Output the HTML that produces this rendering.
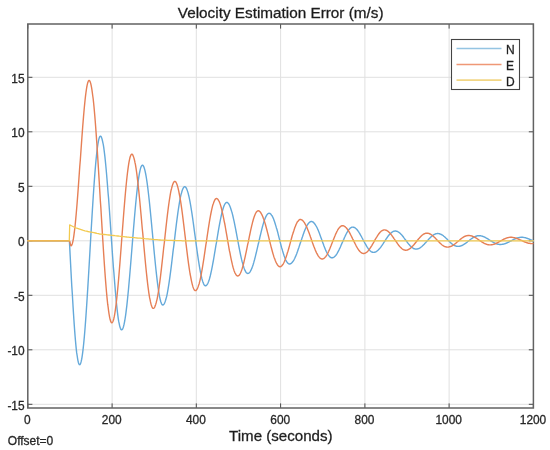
<!DOCTYPE html>
<html><head><meta charset="utf-8"><title>Velocity Estimation Error</title>
<style>
html,body{margin:0;padding:0;background:#fff;}
body{width:550px;height:450px;overflow:hidden;}
svg{display:block;font-family:"Liberation Sans",Arial,sans-serif;}
.g line{stroke:#e0e0e0;stroke-width:1;}
.t line{stroke:#4a4a4a;stroke-width:1;}
.lab text{font-size:11.9px;fill:#262626;}
text{stroke:#2a2a2a;stroke-width:0.3px;}
.c{fill:none;stroke-width:1.4;stroke-linejoin:round;stroke-linecap:round;}
</style></head><body>
<svg width="550" height="450" viewBox="0 0 550 450">
<rect x="0" y="0" width="550" height="450" fill="#ffffff"/>
<g class="g"><line x1="112.1" y1="24.0" x2="112.1" y2="408.0"/><line x1="196.3" y1="24.0" x2="196.3" y2="408.0"/><line x1="280.6" y1="24.0" x2="280.6" y2="408.0"/><line x1="364.9" y1="24.0" x2="364.9" y2="408.0"/><line x1="449.1" y1="24.0" x2="449.1" y2="408.0"/><line x1="27.8" y1="404.3" x2="533.4" y2="404.3"/><line x1="27.8" y1="349.8" x2="533.4" y2="349.8"/><line x1="27.8" y1="295.3" x2="533.4" y2="295.3"/><line x1="27.8" y1="240.8" x2="533.4" y2="240.8"/><line x1="27.8" y1="186.3" x2="533.4" y2="186.3"/><line x1="27.8" y1="131.8" x2="533.4" y2="131.8"/><line x1="27.8" y1="77.3" x2="533.4" y2="77.3"/></g>
<g class="t"><line x1="27.8" y1="408.0" x2="27.8" y2="403.4"/><line x1="27.8" y1="24.0" x2="27.8" y2="28.6"/><line x1="112.1" y1="408.0" x2="112.1" y2="403.4"/><line x1="112.1" y1="24.0" x2="112.1" y2="28.6"/><line x1="196.3" y1="408.0" x2="196.3" y2="403.4"/><line x1="196.3" y1="24.0" x2="196.3" y2="28.6"/><line x1="280.6" y1="408.0" x2="280.6" y2="403.4"/><line x1="280.6" y1="24.0" x2="280.6" y2="28.6"/><line x1="364.9" y1="408.0" x2="364.9" y2="403.4"/><line x1="364.9" y1="24.0" x2="364.9" y2="28.6"/><line x1="449.1" y1="408.0" x2="449.1" y2="403.4"/><line x1="449.1" y1="24.0" x2="449.1" y2="28.6"/><line x1="533.4" y1="408.0" x2="533.4" y2="403.4"/><line x1="533.4" y1="24.0" x2="533.4" y2="28.6"/><line x1="27.8" y1="404.3" x2="32.4" y2="404.3"/><line x1="533.4" y1="404.3" x2="528.8" y2="404.3"/><line x1="27.8" y1="349.8" x2="32.4" y2="349.8"/><line x1="533.4" y1="349.8" x2="528.8" y2="349.8"/><line x1="27.8" y1="295.3" x2="32.4" y2="295.3"/><line x1="533.4" y1="295.3" x2="528.8" y2="295.3"/><line x1="27.8" y1="240.8" x2="32.4" y2="240.8"/><line x1="533.4" y1="240.8" x2="528.8" y2="240.8"/><line x1="27.8" y1="186.3" x2="32.4" y2="186.3"/><line x1="533.4" y1="186.3" x2="528.8" y2="186.3"/><line x1="27.8" y1="131.8" x2="32.4" y2="131.8"/><line x1="533.4" y1="131.8" x2="528.8" y2="131.8"/><line x1="27.8" y1="77.3" x2="32.4" y2="77.3"/><line x1="533.4" y1="77.3" x2="528.8" y2="77.3"/></g>
<rect x="27.8" y="24.0" width="505.59999999999997" height="384.0" fill="none" stroke="#626262" stroke-width="1.5"/>
<clipPath id="cp"><rect x="27.1" y="24.0" width="506.99999999999994" height="384.0"/></clipPath>
<g clip-path="url(#cp)">
<path class="c" stroke="#64a9da" d="M27.8,240.8 L69.4,240.8 L69.8,248.6 L70.2,256.3 L70.6,264.0 L71.0,271.6 L71.4,279.1 L71.8,286.4 L72.3,293.6 L72.7,300.5 L73.1,307.2 L73.5,313.6 L73.9,319.8 L74.3,325.6 L74.7,331.1 L75.1,336.3 L75.5,341.0 L75.9,345.4 L76.3,349.4 L76.7,352.9 L77.2,356.0 L77.6,358.6 L78.0,360.8 L78.4,362.5 L78.8,363.7 L79.2,364.5 L79.6,364.7 L80.0,364.5 L80.4,363.9 L80.8,362.8 L81.2,361.4 L81.6,359.5 L82.0,357.3 L82.4,354.6 L82.8,351.6 L83.2,348.2 L83.6,344.5 L84.0,340.4 L84.4,336.0 L84.8,331.2 L85.2,326.2 L85.6,320.9 L86.0,315.3 L86.4,309.5 L86.8,303.5 L87.2,297.3 L87.6,290.9 L88.0,284.4 L88.4,277.8 L88.8,271.0 L89.2,264.2 L89.6,257.3 L90.0,250.4 L90.4,243.5 L90.8,236.6 L91.2,229.8 L91.6,223.0 L92.0,216.4 L92.4,209.9 L92.8,203.5 L93.2,197.3 L93.6,191.3 L94.0,185.5 L94.4,179.9 L94.8,174.6 L95.2,169.6 L95.6,164.8 L96.0,160.4 L96.4,156.3 L96.8,152.6 L97.2,149.2 L97.6,146.2 L98.0,143.5 L98.4,141.3 L98.8,139.4 L99.2,138.0 L99.6,136.9 L100.0,136.3 L100.4,136.1 L100.8,136.3 L101.2,136.8 L101.6,137.7 L102.0,138.9 L102.4,140.5 L102.8,142.4 L103.3,144.6 L103.7,147.2 L104.1,150.1 L104.5,153.3 L104.9,156.7 L105.3,160.5 L105.7,164.5 L106.1,168.7 L106.5,173.2 L106.9,178.0 L107.3,182.9 L107.7,188.0 L108.1,193.2 L108.6,198.6 L109.0,204.2 L109.4,209.8 L109.8,215.5 L110.2,221.3 L110.6,227.1 L111.0,233.0 L111.4,238.9 L111.8,244.7 L112.2,250.5 L112.6,256.2 L113.0,261.8 L113.4,267.4 L113.9,272.8 L114.3,278.0 L114.7,283.1 L115.1,288.0 L115.5,292.8 L115.9,297.3 L116.3,301.5 L116.7,305.5 L117.1,309.3 L117.5,312.7 L117.9,315.9 L118.3,318.8 L118.7,321.4 L119.2,323.6 L119.6,325.5 L120.0,327.1 L120.4,328.3 L120.8,329.2 L121.2,329.7 L121.6,329.9 L122.0,329.7 L122.4,329.3 L122.8,328.6 L123.2,327.5 L123.6,326.2 L124.0,324.5 L124.4,322.6 L124.8,320.5 L125.2,318.0 L125.6,315.3 L126.0,312.4 L126.4,309.2 L126.8,305.8 L127.2,302.2 L127.6,298.3 L128.0,294.3 L128.4,290.2 L128.8,285.8 L129.2,281.3 L129.6,276.8 L130.0,272.0 L130.4,267.3 L130.8,262.4 L131.2,257.5 L131.6,252.5 L132.0,247.6 L132.4,242.6 L132.8,237.6 L133.2,232.7 L133.6,227.8 L134.0,223.1 L134.4,218.3 L134.8,213.8 L135.2,209.3 L135.6,204.9 L136.0,200.8 L136.4,196.8 L136.8,192.9 L137.2,189.3 L137.6,185.9 L138.0,182.7 L138.4,179.8 L138.8,177.1 L139.2,174.6 L139.6,172.5 L140.0,170.6 L140.4,168.9 L140.8,167.6 L141.2,166.5 L141.6,165.8 L142.0,165.4 L142.4,165.2 L142.8,165.3 L143.2,165.7 L143.6,166.4 L144.0,167.3 L144.4,168.5 L144.8,169.9 L145.2,171.6 L145.6,173.5 L146.0,175.7 L146.4,178.0 L146.8,180.6 L147.2,183.4 L147.6,186.4 L148.0,189.6 L148.4,193.0 L148.8,196.5 L149.2,200.1 L149.6,203.9 L150.0,207.9 L150.4,211.9 L150.8,216.0 L151.2,220.1 L151.6,224.4 L152.0,228.7 L152.4,232.9 L152.8,237.3 L153.2,241.5 L153.6,245.8 L154.0,250.1 L154.4,254.2 L154.8,258.3 L155.2,262.3 L155.6,266.3 L156.0,270.0 L156.4,273.7 L156.8,277.2 L157.2,280.6 L157.6,283.8 L158.0,286.8 L158.4,289.6 L158.8,292.2 L159.2,294.5 L159.6,296.7 L160.0,298.6 L160.4,300.3 L160.8,301.7 L161.2,302.9 L161.6,303.8 L162.0,304.5 L162.4,304.9 L162.8,305.0 L163.2,304.9 L163.6,304.6 L164.0,304.1 L164.4,303.4 L164.8,302.5 L165.2,301.4 L165.6,300.2 L166.0,298.7 L166.5,297.1 L166.9,295.3 L167.3,293.3 L167.7,291.2 L168.1,288.9 L168.5,286.4 L168.9,283.9 L169.3,281.2 L169.7,278.4 L170.1,275.4 L170.5,272.4 L170.9,269.3 L171.3,266.1 L171.7,262.8 L172.1,259.5 L172.5,256.1 L172.9,252.7 L173.3,249.3 L173.8,245.8 L174.2,242.4 L174.6,239.0 L175.0,235.6 L175.4,232.2 L175.8,228.9 L176.2,225.6 L176.6,222.4 L177.0,219.3 L177.4,216.3 L177.8,213.3 L178.2,210.5 L178.6,207.8 L179.0,205.3 L179.4,202.8 L179.8,200.5 L180.2,198.4 L180.6,196.4 L181.0,194.6 L181.5,193.0 L181.9,191.5 L182.3,190.3 L182.7,189.2 L183.1,188.3 L183.5,187.6 L183.9,187.1 L184.3,186.8 L184.7,186.7 L185.1,186.8 L185.5,187.1 L185.9,187.5 L186.3,188.1 L186.7,188.9 L187.1,189.9 L187.5,191.1 L187.9,192.4 L188.3,193.8 L188.7,195.5 L189.1,197.2 L189.5,199.2 L189.9,201.2 L190.3,203.4 L190.7,205.7 L191.1,208.1 L191.5,210.6 L191.9,213.2 L192.3,215.9 L192.7,218.7 L193.1,221.5 L193.5,224.4 L193.9,227.3 L194.3,230.3 L194.7,233.3 L195.1,236.2 L195.5,239.2 L195.9,242.2 L196.3,245.2 L196.7,248.1 L197.1,251.0 L197.5,253.8 L197.9,256.6 L198.3,259.3 L198.7,261.9 L199.1,264.4 L199.5,266.8 L199.9,269.1 L200.3,271.3 L200.7,273.3 L201.1,275.3 L201.5,277.0 L201.9,278.7 L202.3,280.1 L202.7,281.4 L203.1,282.6 L203.5,283.6 L203.9,284.4 L204.3,285.0 L204.7,285.4 L205.1,285.7 L205.5,285.8 L205.9,285.7 L206.3,285.5 L206.7,285.1 L207.1,284.6 L207.5,284.0 L207.9,283.2 L208.3,282.3 L208.7,281.2 L209.1,280.0 L209.5,278.7 L209.9,277.2 L210.3,275.7 L210.7,274.0 L211.1,272.2 L211.5,270.4 L211.9,268.4 L212.3,266.4 L212.7,264.2 L213.1,262.0 L213.5,259.8 L213.9,257.5 L214.3,255.1 L214.7,252.7 L215.1,250.3 L215.5,247.8 L215.9,245.3 L216.4,242.9 L216.8,240.4 L217.2,237.9 L217.6,235.5 L218.0,233.1 L218.4,230.7 L218.8,228.4 L219.2,226.2 L219.6,224.0 L220.0,221.8 L220.4,219.8 L220.8,217.8 L221.2,216.0 L221.6,214.2 L222.0,212.5 L222.4,211.0 L222.8,209.5 L223.2,208.2 L223.6,207.0 L224.0,205.9 L224.4,205.0 L224.8,204.2 L225.2,203.6 L225.6,203.1 L226.0,202.7 L226.4,202.5 L226.8,202.4 L227.2,202.5 L227.6,202.7 L228.0,203.0 L228.4,203.4 L228.8,204.0 L229.2,204.7 L229.6,205.5 L230.0,206.5 L230.4,207.5 L230.8,208.7 L231.2,210.0 L231.6,211.3 L232.1,212.8 L232.5,214.4 L232.9,216.0 L233.3,217.8 L233.7,219.6 L234.1,221.4 L234.5,223.4 L234.9,225.3 L235.3,227.4 L235.7,229.4 L236.1,231.5 L236.5,233.7 L236.9,235.8 L237.3,237.9 L237.7,240.1 L238.1,242.2 L238.5,244.4 L238.9,246.5 L239.3,248.5 L239.7,250.6 L240.1,252.5 L240.5,254.5 L240.9,256.3 L241.3,258.1 L241.7,259.9 L242.1,261.5 L242.6,263.1 L243.0,264.6 L243.4,265.9 L243.8,267.2 L244.2,268.4 L244.6,269.4 L245.0,270.4 L245.4,271.2 L245.8,271.9 L246.2,272.5 L246.6,272.9 L247.0,273.2 L247.4,273.4 L247.8,273.5 L248.2,273.4 L248.6,273.3 L249.0,273.0 L249.4,272.7 L249.8,272.2 L250.2,271.6 L250.6,270.9 L251.0,270.2 L251.4,269.3 L251.8,268.4 L252.2,267.3 L252.6,266.2 L253.0,265.0 L253.4,263.7 L253.8,262.4 L254.2,260.9 L254.6,259.5 L255.0,257.9 L255.4,256.3 L255.8,254.7 L256.2,253.0 L256.6,251.3 L257.0,249.6 L257.4,247.8 L257.8,246.1 L258.2,244.3 L258.7,242.5 L259.1,240.7 L259.5,239.0 L259.9,237.2 L260.3,235.5 L260.7,233.8 L261.1,232.1 L261.5,230.5 L261.9,228.9 L262.3,227.3 L262.7,225.9 L263.1,224.4 L263.5,223.1 L263.9,221.8 L264.3,220.6 L264.7,219.5 L265.1,218.4 L265.5,217.5 L265.9,216.6 L266.3,215.9 L266.7,215.2 L267.1,214.6 L267.5,214.1 L267.9,213.8 L268.3,213.5 L268.7,213.4 L269.1,213.3 L269.5,213.4 L269.9,213.5 L270.3,213.7 L270.7,214.1 L271.1,214.5 L271.5,215.1 L272.0,215.7 L272.4,216.4 L272.8,217.2 L273.2,218.1 L273.6,219.1 L274.0,220.2 L274.4,221.3 L274.8,222.5 L275.2,223.7 L275.6,225.1 L276.0,226.4 L276.4,227.9 L276.9,229.3 L277.3,230.8 L277.7,232.3 L278.1,233.9 L278.5,235.5 L278.9,237.1 L279.3,238.7 L279.7,240.2 L280.1,241.8 L280.5,243.4 L280.9,245.0 L281.3,246.5 L281.7,248.0 L282.2,249.4 L282.6,250.9 L283.0,252.2 L283.4,253.6 L283.8,254.8 L284.2,256.0 L284.6,257.1 L285.0,258.2 L285.4,259.2 L285.8,260.1 L286.2,260.9 L286.6,261.6 L287.1,262.2 L287.5,262.8 L287.9,263.2 L288.3,263.6 L288.7,263.8 L289.1,263.9 L289.5,264.0 L289.9,264.0 L290.3,263.9 L290.7,263.7 L291.1,263.4 L291.5,263.1 L291.9,262.7 L292.3,262.3 L292.7,261.7 L293.1,261.2 L293.6,260.5 L294.0,259.8 L294.4,259.0 L294.8,258.2 L295.2,257.3 L295.6,256.4 L296.0,255.4 L296.4,254.4 L296.8,253.4 L297.2,252.3 L297.6,251.2 L298.0,250.0 L298.4,248.8 L298.8,247.7 L299.2,246.4 L299.6,245.2 L300.0,244.0 L300.4,242.8 L300.9,241.5 L301.3,240.3 L301.7,239.1 L302.1,237.8 L302.5,236.7 L302.9,235.5 L303.3,234.3 L303.7,233.2 L304.1,232.1 L304.5,231.1 L304.9,230.1 L305.3,229.1 L305.7,228.2 L306.1,227.3 L306.5,226.5 L306.9,225.7 L307.3,225.0 L307.8,224.3 L308.2,223.8 L308.6,223.2 L309.0,222.8 L309.4,222.4 L309.8,222.1 L310.2,221.8 L310.6,221.6 L311.0,221.5 L311.4,221.5 L311.8,221.5 L312.2,221.6 L312.6,221.8 L313.0,222.0 L313.4,222.4 L313.8,222.7 L314.2,223.2 L314.6,223.7 L315.0,224.2 L315.4,224.8 L315.8,225.5 L316.2,226.2 L316.7,227.0 L317.1,227.8 L317.5,228.7 L317.9,229.6 L318.3,230.6 L318.7,231.6 L319.1,232.6 L319.5,233.6 L319.9,234.7 L320.3,235.8 L320.7,236.9 L321.1,238.0 L321.5,239.1 L321.9,240.2 L322.3,241.3 L322.7,242.4 L323.1,243.5 L323.5,244.6 L323.9,245.7 L324.3,246.7 L324.7,247.7 L325.1,248.7 L325.5,249.7 L325.9,250.6 L326.3,251.5 L326.7,252.3 L327.2,253.1 L327.6,253.8 L328.0,254.5 L328.4,255.1 L328.8,255.6 L329.2,256.1 L329.6,256.6 L330.0,256.9 L330.4,257.3 L330.8,257.5 L331.2,257.7 L331.6,257.8 L332.0,257.8 L332.4,257.8 L332.8,257.7 L333.2,257.5 L333.6,257.3 L334.0,257.1 L334.4,256.8 L334.8,256.4 L335.2,256.0 L335.7,255.5 L336.1,255.0 L336.5,254.4 L336.9,253.8 L337.3,253.1 L337.7,252.4 L338.1,251.7 L338.5,250.9 L338.9,250.1 L339.3,249.3 L339.7,248.4 L340.1,247.6 L340.5,246.7 L340.9,245.7 L341.3,244.8 L341.7,243.9 L342.1,242.9 L342.6,242.0 L343.0,241.0 L343.4,240.1 L343.8,239.2 L344.2,238.2 L344.6,237.3 L345.0,236.5 L345.4,235.6 L345.8,234.8 L346.2,234.0 L346.6,233.2 L347.0,232.5 L347.4,231.8 L347.8,231.1 L348.2,230.5 L348.6,229.9 L349.0,229.4 L349.5,228.9 L349.9,228.5 L350.3,228.1 L350.7,227.8 L351.1,227.6 L351.5,227.4 L351.9,227.2 L352.3,227.1 L352.7,227.1 L353.1,227.1 L353.5,227.2 L353.9,227.3 L354.3,227.5 L354.7,227.7 L355.1,227.9 L355.5,228.2 L355.9,228.5 L356.3,228.9 L356.7,229.3 L357.1,229.8 L357.5,230.3 L357.9,230.8 L358.3,231.4 L358.7,231.9 L359.1,232.6 L359.5,233.2 L359.9,233.9 L360.3,234.6 L360.7,235.3 L361.1,236.0 L361.5,236.7 L361.9,237.5 L362.3,238.2 L362.7,239.0 L363.1,239.8 L363.5,240.5 L363.9,241.3 L364.3,242.0 L364.7,242.8 L365.1,243.5 L365.5,244.2 L365.9,244.9 L366.3,245.6 L366.7,246.3 L367.1,246.9 L367.5,247.6 L367.9,248.1 L368.3,248.7 L368.7,249.2 L369.1,249.7 L369.5,250.2 L369.9,250.6 L370.3,251.0 L370.7,251.3 L371.1,251.6 L371.5,251.8 L371.9,252.0 L372.3,252.2 L372.7,252.3 L373.1,252.4 L373.5,252.4 L373.9,252.4 L374.3,252.3 L374.7,252.2 L375.1,252.1 L375.5,252.0 L375.9,251.8 L376.3,251.5 L376.7,251.3 L377.1,251.0 L377.5,250.6 L377.9,250.3 L378.3,249.9 L378.7,249.5 L379.2,249.0 L379.6,248.6 L380.0,248.1 L380.4,247.6 L380.8,247.1 L381.2,246.5 L381.6,245.9 L382.0,245.4 L382.4,244.8 L382.8,244.2 L383.2,243.6 L383.6,242.9 L384.0,242.3 L384.4,241.7 L384.8,241.1 L385.2,240.5 L385.6,239.8 L386.0,239.2 L386.4,238.6 L386.8,238.0 L387.2,237.5 L387.6,236.9 L388.0,236.3 L388.4,235.8 L388.8,235.3 L389.2,234.8 L389.6,234.4 L390.1,233.9 L390.5,233.5 L390.9,233.1 L391.3,232.8 L391.7,232.4 L392.1,232.1 L392.5,231.9 L392.9,231.6 L393.3,231.4 L393.7,231.3 L394.1,231.2 L394.5,231.1 L394.9,231.0 L395.3,231.0 L395.7,231.0 L396.1,231.1 L396.5,231.2 L396.9,231.3 L397.3,231.4 L397.7,231.6 L398.1,231.8 L398.5,232.1 L399.0,232.4 L399.4,232.7 L399.8,233.0 L400.2,233.4 L400.6,233.7 L401.0,234.2 L401.4,234.6 L401.8,235.1 L402.2,235.5 L402.6,236.0 L403.0,236.5 L403.4,237.0 L403.8,237.6 L404.2,238.1 L404.6,238.7 L405.0,239.2 L405.4,239.8 L405.9,240.3 L406.3,240.9 L406.7,241.4 L407.1,242.0 L407.5,242.5 L407.9,243.1 L408.3,243.6 L408.7,244.1 L409.1,244.6 L409.5,245.0 L409.9,245.5 L410.3,245.9 L410.7,246.4 L411.1,246.7 L411.5,247.1 L411.9,247.4 L412.3,247.7 L412.8,248.0 L413.2,248.3 L413.6,248.5 L414.0,248.7 L414.4,248.8 L414.8,248.9 L415.2,249.0 L415.6,249.1 L416.0,249.1 L416.4,249.1 L416.8,249.0 L417.2,249.0 L417.6,248.9 L418.0,248.8 L418.4,248.6 L418.8,248.5 L419.2,248.3 L419.6,248.1 L420.0,247.8 L420.4,247.6 L420.8,247.3 L421.2,247.0 L421.6,246.7 L422.0,246.3 L422.4,246.0 L422.8,245.6 L423.2,245.2 L423.6,244.8 L424.0,244.4 L424.4,244.0 L424.8,243.5 L425.2,243.1 L425.6,242.7 L426.0,242.2 L426.4,241.8 L426.9,241.3 L427.3,240.8 L427.7,240.4 L428.1,239.9 L428.5,239.5 L428.9,239.1 L429.3,238.6 L429.7,238.2 L430.1,237.8 L430.5,237.4 L430.9,237.0 L431.3,236.6 L431.7,236.3 L432.1,235.9 L432.5,235.6 L432.9,235.3 L433.3,235.0 L433.7,234.8 L434.1,234.5 L434.5,234.3 L434.9,234.1 L435.3,234.0 L435.7,233.8 L436.1,233.7 L436.5,233.6 L436.9,233.6 L437.3,233.5 L437.7,233.5 L438.1,233.5 L438.5,233.6 L438.9,233.6 L439.3,233.7 L439.7,233.8 L440.1,234.0 L440.5,234.1 L440.9,234.3 L441.3,234.5 L441.7,234.7 L442.1,235.0 L442.5,235.2 L443.0,235.5 L443.4,235.8 L443.8,236.2 L444.2,236.5 L444.6,236.8 L445.0,237.2 L445.4,237.6 L445.8,238.0 L446.2,238.3 L446.6,238.7 L447.0,239.1 L447.4,239.5 L447.8,239.9 L448.2,240.4 L448.6,240.8 L449.0,241.2 L449.4,241.6 L449.8,241.9 L450.2,242.3 L450.6,242.7 L451.0,243.1 L451.4,243.4 L451.8,243.7 L452.2,244.1 L452.6,244.4 L453.1,244.7 L453.5,244.9 L453.9,245.2 L454.3,245.4 L454.7,245.6 L455.1,245.8 L455.5,245.9 L455.9,246.1 L456.3,246.2 L456.7,246.3 L457.1,246.3 L457.5,246.4 L457.9,246.4 L458.3,246.4 L458.7,246.4 L459.1,246.3 L459.5,246.3 L459.9,246.2 L460.3,246.1 L460.7,245.9 L461.1,245.8 L461.5,245.7 L461.9,245.5 L462.3,245.3 L462.7,245.1 L463.1,244.9 L463.5,244.7 L463.9,244.4 L464.3,244.2 L464.7,243.9 L465.1,243.6 L465.5,243.4 L465.9,243.1 L466.3,242.8 L466.7,242.5 L467.1,242.2 L467.5,241.8 L467.9,241.5 L468.3,241.2 L468.7,240.9 L469.1,240.6 L469.5,240.3 L469.9,239.9 L470.3,239.6 L470.7,239.3 L471.1,239.0 L471.5,238.7 L471.9,238.5 L472.3,238.2 L472.7,237.9 L473.1,237.7 L473.5,237.4 L473.9,237.2 L474.3,237.0 L474.7,236.8 L475.1,236.6 L475.5,236.4 L475.9,236.3 L476.3,236.2 L476.7,236.0 L477.1,235.9 L477.5,235.8 L477.9,235.8 L478.3,235.7 L478.7,235.7 L479.1,235.7 L479.5,235.7 L479.9,235.7 L480.3,235.8 L480.7,235.8 L481.1,235.9 L481.5,236.0 L482.0,236.1 L482.4,236.2 L482.8,236.3 L483.2,236.5 L483.6,236.6 L484.0,236.8 L484.4,237.0 L484.8,237.2 L485.2,237.4 L485.6,237.6 L486.0,237.8 L486.4,238.1 L486.8,238.3 L487.3,238.5 L487.7,238.8 L488.1,239.0 L488.5,239.3 L488.9,239.6 L489.3,239.8 L489.7,240.1 L490.1,240.4 L490.5,240.6 L490.9,240.9 L491.3,241.2 L491.7,241.4 L492.1,241.7 L492.6,241.9 L493.0,242.1 L493.4,242.4 L493.8,242.6 L494.2,242.8 L494.6,243.0 L495.0,243.2 L495.4,243.4 L495.8,243.6 L496.2,243.7 L496.6,243.9 L497.0,244.0 L497.4,244.1 L497.9,244.2 L498.3,244.3 L498.7,244.4 L499.1,244.4 L499.5,244.5 L499.9,244.5 L500.3,244.5 L500.7,244.5 L501.1,244.5 L501.5,244.4 L501.9,244.4 L502.3,244.3 L502.7,244.3 L503.1,244.2 L503.5,244.1 L503.9,244.0 L504.3,243.9 L504.7,243.8 L505.1,243.6 L505.5,243.5 L505.9,243.3 L506.3,243.2 L506.7,243.0 L507.1,242.8 L507.5,242.6 L507.9,242.4 L508.3,242.3 L508.7,242.1 L509.1,241.8 L509.5,241.6 L509.9,241.4 L510.3,241.2 L510.7,241.0 L511.2,240.8 L511.6,240.6 L512.0,240.4 L512.4,240.2 L512.8,240.0 L513.2,239.7 L513.6,239.5 L514.0,239.4 L514.4,239.2 L514.8,239.0 L515.2,238.8 L515.6,238.6 L516.0,238.5 L516.4,238.3 L516.8,238.2 L517.2,238.0 L517.6,237.9 L518.0,237.8 L518.4,237.7 L518.8,237.6 L519.2,237.5 L519.6,237.5 L520.0,237.4 L520.4,237.4 L520.8,237.3 L521.2,237.3 L521.6,237.3 L522.0,237.3 L522.4,237.3 L522.8,237.3 L523.2,237.4 L523.6,237.4 L524.0,237.5 L524.4,237.6 L524.8,237.6 L525.2,237.7 L525.6,237.8 L526.0,237.9 L526.4,238.1 L526.8,238.2 L527.2,238.3 L527.6,238.5 L528.0,238.6 L528.4,238.8 L528.8,238.9 L529.2,239.1 L529.6,239.3 L530.0,239.4 L530.4,239.6 L530.8,239.8 L531.2,240.0 L531.6,240.2 L532.0,240.3 L532.5,240.5 L532.9,240.7 L533.3,240.9"/>
<path class="c" stroke="#e67f55" d="M27.8,240.8 L69.4,240.8 L69.8,241.5 L70.2,243.3 L70.6,245.1 L71.0,245.8 L71.4,245.6 L71.8,245.0 L72.2,244.0 L72.6,242.6 L73.0,240.8 L73.4,238.7 L73.8,236.1 L74.2,233.2 L74.6,230.0 L75.0,226.5 L75.4,222.6 L75.8,218.4 L76.2,214.0 L76.6,209.3 L77.0,204.5 L77.4,199.4 L77.8,194.1 L78.2,188.7 L78.6,183.1 L79.0,177.5 L79.4,171.7 L79.8,166.0 L80.3,160.2 L80.7,154.5 L81.1,148.7 L81.5,143.1 L81.9,137.5 L82.3,132.1 L82.7,126.8 L83.1,121.8 L83.5,116.9 L83.9,112.2 L84.3,107.8 L84.7,103.6 L85.1,99.7 L85.5,96.2 L85.9,93.0 L86.3,90.1 L86.7,87.5 L87.1,85.4 L87.5,83.6 L87.9,82.2 L88.3,81.2 L88.7,80.6 L89.1,80.4 L89.5,80.6 L89.9,81.2 L90.3,82.1 L90.7,83.4 L91.1,85.1 L91.5,87.2 L91.9,89.6 L92.3,92.4 L92.7,95.5 L93.2,99.0 L93.6,102.8 L94.0,106.8 L94.4,111.2 L94.8,115.9 L95.2,120.8 L95.6,126.0 L96.0,131.5 L96.4,137.1 L96.8,143.0 L97.2,149.0 L97.6,155.2 L98.0,161.6 L98.4,168.0 L98.8,174.6 L99.2,181.3 L99.6,188.0 L100.0,194.8 L100.4,201.6 L100.9,208.4 L101.3,215.2 L101.7,221.9 L102.1,228.6 L102.5,235.2 L102.9,241.6 L103.3,248.0 L103.7,254.2 L104.1,260.2 L104.5,266.1 L104.9,271.7 L105.3,277.2 L105.7,282.4 L106.1,287.3 L106.5,292.0 L106.9,296.4 L107.3,300.4 L107.7,304.2 L108.2,307.7 L108.6,310.8 L109.0,313.6 L109.4,316.0 L109.8,318.1 L110.2,319.8 L110.6,321.1 L111.0,322.0 L111.4,322.6 L111.8,322.8 L112.2,322.6 L112.6,322.1 L113.0,321.3 L113.4,320.2 L113.8,318.7 L114.2,316.9 L114.6,314.8 L115.0,312.4 L115.4,309.7 L115.8,306.7 L116.2,303.5 L116.6,300.0 L117.0,296.2 L117.4,292.2 L117.8,288.1 L118.2,283.7 L118.6,279.1 L119.0,274.4 L119.4,269.5 L119.8,264.6 L120.2,259.5 L120.6,254.3 L121.0,249.1 L121.4,243.8 L121.8,238.5 L122.2,233.2 L122.6,227.9 L123.0,222.7 L123.4,217.5 L123.8,212.4 L124.2,207.5 L124.6,202.6 L125.0,197.9 L125.4,193.3 L125.8,188.9 L126.2,184.8 L126.6,180.8 L127.0,177.0 L127.4,173.5 L127.8,170.3 L128.2,167.3 L128.6,164.6 L129.0,162.2 L129.4,160.1 L129.8,158.3 L130.2,156.8 L130.6,155.7 L131.0,154.9 L131.4,154.4 L131.8,154.2 L132.2,154.3 L132.6,154.7 L133.0,155.4 L133.4,156.4 L133.8,157.6 L134.2,159.0 L134.6,160.7 L135.0,162.7 L135.5,164.9 L135.9,167.4 L136.3,170.0 L136.7,172.9 L137.1,176.0 L137.5,179.3 L137.9,182.7 L138.3,186.4 L138.7,190.1 L139.1,194.1 L139.5,198.1 L139.9,202.3 L140.3,206.6 L140.7,211.0 L141.1,215.4 L141.5,219.9 L141.9,224.5 L142.3,229.0 L142.8,233.6 L143.2,238.1 L143.6,242.7 L144.0,247.2 L144.4,251.6 L144.8,256.0 L145.2,260.3 L145.6,264.5 L146.0,268.5 L146.4,272.5 L146.8,276.2 L147.2,279.9 L147.6,283.3 L148.0,286.6 L148.4,289.7 L148.8,292.6 L149.2,295.2 L149.6,297.7 L150.1,299.9 L150.5,301.9 L150.9,303.6 L151.3,305.0 L151.7,306.2 L152.1,307.2 L152.5,307.9 L152.9,308.3 L153.3,308.4 L153.7,308.3 L154.1,308.0 L154.5,307.4 L154.9,306.6 L155.3,305.6 L155.7,304.4 L156.1,303.0 L156.5,301.4 L157.0,299.6 L157.4,297.6 L157.8,295.4 L158.2,293.0 L158.6,290.5 L159.0,287.8 L159.4,284.9 L159.8,281.9 L160.2,278.8 L160.6,275.6 L161.0,272.2 L161.4,268.8 L161.8,265.2 L162.2,261.6 L162.6,258.0 L163.0,254.3 L163.4,250.5 L163.8,246.8 L164.3,243.0 L164.7,239.3 L165.1,235.5 L165.5,231.8 L165.9,228.2 L166.3,224.6 L166.7,221.0 L167.1,217.6 L167.5,214.2 L167.9,211.0 L168.3,207.9 L168.7,204.9 L169.1,202.0 L169.5,199.3 L169.9,196.8 L170.3,194.4 L170.7,192.2 L171.1,190.2 L171.6,188.4 L172.0,186.8 L172.4,185.4 L172.8,184.2 L173.2,183.2 L173.6,182.4 L174.0,181.8 L174.4,181.5 L174.8,181.4 L175.2,181.5 L175.6,181.8 L176.0,182.3 L176.4,183.0 L176.8,184.0 L177.2,185.1 L177.6,186.4 L178.0,187.9 L178.4,189.6 L178.8,191.4 L179.2,193.5 L179.6,195.7 L180.1,198.0 L180.5,200.5 L180.9,203.1 L181.3,205.8 L181.7,208.7 L182.1,211.7 L182.5,214.7 L182.9,217.9 L183.3,221.1 L183.7,224.3 L184.1,227.6 L184.5,231.0 L184.9,234.3 L185.3,237.7 L185.7,241.0 L186.1,244.4 L186.5,247.7 L186.9,250.9 L187.3,254.1 L187.7,257.3 L188.1,260.3 L188.5,263.3 L188.9,266.2 L189.3,268.9 L189.7,271.5 L190.1,274.0 L190.6,276.3 L191.0,278.5 L191.4,280.6 L191.8,282.4 L192.2,284.1 L192.6,285.6 L193.0,286.9 L193.4,288.0 L193.8,289.0 L194.2,289.7 L194.6,290.2 L195.0,290.5 L195.4,290.6 L195.8,290.5 L196.2,290.3 L196.6,289.8 L197.0,289.3 L197.4,288.5 L197.8,287.6 L198.2,286.5 L198.6,285.3 L199.1,284.0 L199.5,282.4 L199.9,280.8 L200.3,279.0 L200.7,277.1 L201.1,275.1 L201.5,272.9 L201.9,270.7 L202.3,268.4 L202.7,266.0 L203.1,263.4 L203.5,260.9 L203.9,258.3 L204.3,255.6 L204.7,252.9 L205.1,250.1 L205.5,247.3 L205.9,244.6 L206.4,241.8 L206.8,239.0 L207.2,236.2 L207.6,233.5 L208.0,230.8 L208.4,228.2 L208.8,225.7 L209.2,223.1 L209.6,220.7 L210.0,218.4 L210.4,216.2 L210.8,214.0 L211.2,212.0 L211.6,210.1 L212.0,208.3 L212.4,206.7 L212.8,205.1 L213.3,203.8 L213.7,202.6 L214.1,201.5 L214.5,200.6 L214.9,199.8 L215.3,199.3 L215.7,198.8 L216.1,198.6 L216.5,198.5 L216.9,198.6 L217.3,198.8 L217.7,199.1 L218.1,199.6 L218.5,200.3 L218.9,201.0 L219.4,201.9 L219.8,202.9 L220.2,204.1 L220.6,205.4 L221.0,206.7 L221.4,208.2 L221.8,209.8 L222.2,211.6 L222.6,213.4 L223.0,215.2 L223.4,217.2 L223.8,219.2 L224.2,221.3 L224.7,223.5 L225.1,225.7 L225.5,228.0 L225.9,230.3 L226.3,232.6 L226.7,234.9 L227.1,237.2 L227.5,239.6 L227.9,241.9 L228.3,244.2 L228.7,246.5 L229.1,248.8 L229.5,251.0 L230.0,253.2 L230.4,255.3 L230.8,257.3 L231.2,259.3 L231.6,261.1 L232.0,262.9 L232.4,264.7 L232.8,266.3 L233.2,267.8 L233.6,269.1 L234.0,270.4 L234.4,271.6 L234.8,272.6 L235.3,273.5 L235.7,274.2 L236.1,274.9 L236.5,275.4 L236.9,275.7 L237.3,275.9 L237.7,276.0 L238.1,275.9 L238.5,275.8 L238.9,275.4 L239.3,275.0 L239.7,274.5 L240.1,273.8 L240.5,273.0 L240.9,272.1 L241.3,271.1 L241.7,270.0 L242.1,268.8 L242.5,267.5 L242.9,266.1 L243.3,264.6 L243.7,263.0 L244.1,261.4 L244.5,259.7 L244.9,257.9 L245.3,256.1 L245.7,254.2 L246.1,252.3 L246.5,250.4 L246.9,248.4 L247.3,246.4 L247.7,244.4 L248.2,242.4 L248.6,240.4 L249.0,238.4 L249.4,236.4 L249.8,234.5 L250.2,232.6 L250.6,230.7 L251.0,228.9 L251.4,227.1 L251.8,225.4 L252.2,223.8 L252.6,222.2 L253.0,220.7 L253.4,219.3 L253.8,218.0 L254.2,216.8 L254.6,215.7 L255.0,214.7 L255.4,213.8 L255.8,213.0 L256.2,212.3 L256.6,211.8 L257.0,211.4 L257.4,211.0 L257.8,210.9 L258.2,210.8 L258.6,210.8 L259.0,211.0 L259.4,211.2 L259.8,211.6 L260.2,212.0 L260.6,212.5 L261.0,213.1 L261.4,213.8 L261.8,214.5 L262.2,215.4 L262.6,216.3 L263.0,217.3 L263.4,218.4 L263.9,219.6 L264.3,220.8 L264.7,222.1 L265.1,223.4 L265.5,224.8 L265.9,226.2 L266.3,227.7 L266.7,229.2 L267.1,230.7 L267.5,232.3 L267.9,233.9 L268.3,235.5 L268.7,237.1 L269.1,238.8 L269.5,240.4 L269.9,242.0 L270.3,243.6 L270.7,245.2 L271.1,246.8 L271.5,248.3 L271.9,249.8 L272.3,251.3 L272.7,252.7 L273.1,254.1 L273.5,255.4 L273.9,256.7 L274.3,257.9 L274.8,259.1 L275.2,260.2 L275.6,261.2 L276.0,262.1 L276.4,263.0 L276.8,263.7 L277.2,264.4 L277.6,265.0 L278.0,265.5 L278.4,265.9 L278.8,266.3 L279.2,266.5 L279.6,266.7 L280.0,266.7 L280.4,266.7 L280.8,266.5 L281.2,266.3 L281.6,266.0 L282.0,265.5 L282.4,265.0 L282.9,264.5 L283.3,263.8 L283.7,263.0 L284.1,262.2 L284.5,261.3 L284.9,260.3 L285.3,259.3 L285.7,258.1 L286.1,257.0 L286.5,255.7 L286.9,254.5 L287.3,253.1 L287.8,251.8 L288.2,250.4 L288.6,249.0 L289.0,247.5 L289.4,246.1 L289.8,244.6 L290.2,243.1 L290.6,241.6 L291.0,240.1 L291.4,238.7 L291.8,237.2 L292.2,235.8 L292.6,234.4 L293.1,233.1 L293.5,231.7 L293.9,230.5 L294.3,229.2 L294.7,228.1 L295.1,226.9 L295.5,225.9 L295.9,224.9 L296.3,224.0 L296.7,223.2 L297.1,222.4 L297.5,221.7 L298.0,221.2 L298.4,220.7 L298.8,220.2 L299.2,219.9 L299.6,219.7 L300.0,219.5 L300.4,219.5 L300.8,219.5 L301.2,219.6 L301.6,219.8 L302.0,220.0 L302.4,220.3 L302.8,220.7 L303.2,221.1 L303.6,221.6 L304.0,222.1 L304.4,222.7 L304.8,223.4 L305.2,224.1 L305.6,224.9 L306.1,225.7 L306.5,226.6 L306.9,227.5 L307.3,228.4 L307.7,229.4 L308.1,230.4 L308.5,231.4 L308.9,232.5 L309.3,233.6 L309.7,234.7 L310.1,235.8 L310.5,237.0 L310.9,238.1 L311.3,239.2 L311.7,240.4 L312.1,241.5 L312.5,242.7 L312.9,243.8 L313.3,244.9 L313.7,246.0 L314.1,247.1 L314.5,248.1 L314.9,249.1 L315.3,250.1 L315.7,251.0 L316.1,251.9 L316.5,252.8 L317.0,253.6 L317.4,254.4 L317.8,255.1 L318.2,255.8 L318.6,256.4 L319.0,256.9 L319.4,257.4 L319.8,257.8 L320.2,258.2 L320.6,258.5 L321.0,258.7 L321.4,258.9 L321.8,259.0 L322.2,259.0 L322.6,259.0 L323.0,258.9 L323.4,258.7 L323.8,258.5 L324.2,258.2 L324.6,257.8 L325.0,257.4 L325.4,256.9 L325.9,256.4 L326.3,255.8 L326.7,255.2 L327.1,254.5 L327.5,253.7 L327.9,253.0 L328.3,252.1 L328.7,251.3 L329.1,250.4 L329.5,249.4 L329.9,248.5 L330.3,247.5 L330.7,246.5 L331.1,245.5 L331.5,244.4 L331.9,243.4 L332.4,242.3 L332.8,241.3 L333.2,240.3 L333.6,239.2 L334.0,238.2 L334.4,237.2 L334.8,236.2 L335.2,235.3 L335.6,234.3 L336.0,233.4 L336.4,232.6 L336.8,231.7 L337.2,231.0 L337.6,230.2 L338.0,229.5 L338.4,228.9 L338.8,228.3 L339.3,227.8 L339.7,227.3 L340.1,226.9 L340.5,226.5 L340.9,226.2 L341.3,226.0 L341.7,225.8 L342.1,225.7 L342.5,225.7 L342.9,225.7 L343.3,225.8 L343.7,225.9 L344.1,226.1 L344.5,226.3 L344.9,226.6 L345.3,226.9 L345.7,227.3 L346.2,227.7 L346.6,228.2 L347.0,228.7 L347.4,229.2 L347.8,229.8 L348.2,230.4 L348.6,231.0 L349.0,231.7 L349.4,232.4 L349.8,233.1 L350.2,233.9 L350.6,234.7 L351.0,235.5 L351.4,236.3 L351.8,237.1 L352.2,237.9 L352.6,238.8 L353.1,239.6 L353.5,240.4 L353.9,241.3 L354.3,242.1 L354.7,242.9 L355.1,243.7 L355.5,244.5 L355.9,245.3 L356.3,246.1 L356.7,246.8 L357.1,247.5 L357.5,248.2 L357.9,248.8 L358.3,249.4 L358.7,250.0 L359.1,250.5 L359.5,251.0 L359.9,251.5 L360.4,251.9 L360.8,252.3 L361.2,252.6 L361.6,252.9 L362.0,253.1 L362.4,253.3 L362.8,253.4 L363.2,253.5 L363.6,253.5 L364.0,253.5 L364.4,253.4 L364.8,253.3 L365.2,253.1 L365.6,252.9 L366.0,252.7 L366.5,252.4 L366.9,252.1 L367.3,251.7 L367.7,251.3 L368.1,250.9 L368.5,250.4 L368.9,249.9 L369.3,249.4 L369.7,248.8 L370.1,248.2 L370.5,247.6 L370.9,247.0 L371.3,246.3 L371.8,245.6 L372.2,244.9 L372.6,244.2 L373.0,243.5 L373.4,242.8 L373.8,242.1 L374.2,241.3 L374.6,240.6 L375.0,239.9 L375.4,239.2 L375.8,238.5 L376.2,237.8 L376.7,237.1 L377.1,236.4 L377.5,235.8 L377.9,235.2 L378.3,234.6 L378.7,234.0 L379.1,233.5 L379.5,233.0 L379.9,232.5 L380.3,232.1 L380.7,231.7 L381.1,231.3 L381.5,231.0 L382.0,230.7 L382.4,230.5 L382.8,230.3 L383.2,230.1 L383.6,230.0 L384.0,229.9 L384.4,229.9 L384.8,229.9 L385.2,230.0 L385.6,230.1 L386.0,230.2 L386.4,230.3 L386.8,230.5 L387.2,230.8 L387.6,231.0 L388.0,231.3 L388.4,231.6 L388.8,232.0 L389.2,232.4 L389.6,232.8 L390.0,233.2 L390.4,233.7 L390.8,234.1 L391.2,234.6 L391.6,235.1 L392.0,235.7 L392.4,236.2 L392.8,236.8 L393.2,237.4 L393.6,238.0 L394.0,238.6 L394.4,239.1 L394.8,239.7 L395.3,240.4 L395.7,241.0 L396.1,241.5 L396.5,242.1 L396.9,242.7 L397.3,243.3 L397.7,243.9 L398.1,244.4 L398.5,245.0 L398.9,245.5 L399.3,246.0 L399.7,246.4 L400.1,246.9 L400.5,247.3 L400.9,247.7 L401.3,248.1 L401.7,248.5 L402.1,248.8 L402.5,249.1 L402.9,249.3 L403.3,249.6 L403.7,249.8 L404.1,249.9 L404.5,250.0 L404.9,250.1 L405.3,250.2 L405.7,250.2 L406.1,250.2 L406.5,250.1 L406.9,250.1 L407.3,250.0 L407.7,249.8 L408.1,249.6 L408.6,249.5 L409.0,249.2 L409.4,249.0 L409.8,248.7 L410.2,248.4 L410.6,248.1 L411.0,247.7 L411.4,247.3 L411.8,246.9 L412.2,246.5 L412.6,246.1 L413.0,245.7 L413.4,245.2 L413.9,244.7 L414.3,244.2 L414.7,243.7 L415.1,243.2 L415.5,242.7 L415.9,242.2 L416.3,241.7 L416.7,241.2 L417.1,240.7 L417.5,240.2 L417.9,239.7 L418.3,239.2 L418.7,238.7 L419.2,238.2 L419.6,237.7 L420.0,237.3 L420.4,236.9 L420.8,236.5 L421.2,236.1 L421.6,235.7 L422.0,235.3 L422.4,235.0 L422.8,234.7 L423.2,234.4 L423.6,234.2 L424.0,233.9 L424.5,233.8 L424.9,233.6 L425.3,233.4 L425.7,233.3 L426.1,233.3 L426.5,233.2 L426.9,233.2 L427.3,233.2 L427.7,233.3 L428.1,233.3 L428.5,233.4 L428.9,233.5 L429.3,233.7 L429.7,233.8 L430.1,234.0 L430.5,234.2 L430.9,234.5 L431.3,234.7 L431.7,235.0 L432.2,235.3 L432.6,235.6 L433.0,236.0 L433.4,236.3 L433.8,236.7 L434.2,237.1 L434.6,237.4 L435.0,237.8 L435.4,238.2 L435.8,238.7 L436.2,239.1 L436.6,239.5 L437.0,239.9 L437.4,240.4 L437.8,240.8 L438.2,241.2 L438.6,241.6 L439.0,242.1 L439.4,242.5 L439.8,242.9 L440.2,243.2 L440.6,243.6 L441.0,244.0 L441.4,244.3 L441.8,244.7 L442.2,245.0 L442.7,245.3 L443.1,245.6 L443.5,245.8 L443.9,246.1 L444.3,246.3 L444.7,246.5 L445.1,246.6 L445.5,246.8 L445.9,246.9 L446.3,247.0 L446.7,247.0 L447.1,247.1 L447.5,247.1 L447.9,247.1 L448.3,247.1 L448.7,247.0 L449.1,246.9 L449.5,246.8 L449.9,246.7 L450.3,246.6 L450.7,246.4 L451.2,246.3 L451.6,246.1 L452.0,245.9 L452.4,245.6 L452.8,245.4 L453.2,245.1 L453.6,244.9 L454.0,244.6 L454.4,244.3 L454.8,244.0 L455.2,243.7 L455.6,243.4 L456.0,243.0 L456.4,242.7 L456.8,242.3 L457.2,242.0 L457.6,241.7 L458.1,241.3 L458.5,240.9 L458.9,240.6 L459.3,240.3 L459.7,239.9 L460.1,239.6 L460.5,239.2 L460.9,238.9 L461.3,238.6 L461.7,238.3 L462.1,238.0 L462.5,237.7 L462.9,237.5 L463.3,237.2 L463.7,237.0 L464.1,236.7 L464.5,236.5 L464.9,236.3 L465.4,236.2 L465.8,236.0 L466.2,235.9 L466.6,235.8 L467.0,235.7 L467.4,235.6 L467.8,235.5 L468.2,235.5 L468.6,235.5 L469.0,235.5 L469.4,235.5 L469.8,235.6 L470.2,235.6 L470.6,235.7 L471.0,235.8 L471.4,235.9 L471.8,236.0 L472.2,236.2 L472.6,236.3 L473.0,236.5 L473.4,236.6 L473.8,236.8 L474.3,237.0 L474.7,237.2 L475.1,237.5 L475.5,237.7 L475.9,237.9 L476.3,238.2 L476.7,238.4 L477.1,238.7 L477.5,239.0 L477.9,239.2 L478.3,239.5 L478.7,239.8 L479.1,240.1 L479.5,240.3 L479.9,240.6 L480.3,240.9 L480.7,241.2 L481.1,241.4 L481.5,241.7 L481.9,242.0 L482.3,242.2 L482.7,242.5 L483.1,242.7 L483.5,242.9 L483.9,243.2 L484.3,243.4 L484.8,243.6 L485.2,243.8 L485.6,243.9 L486.0,244.1 L486.4,244.2 L486.8,244.4 L487.2,244.5 L487.6,244.6 L488.0,244.7 L488.4,244.8 L488.8,244.8 L489.2,244.9 L489.6,244.9 L490.0,244.9 L490.4,244.9 L490.8,244.9 L491.2,244.8 L491.6,244.8 L492.0,244.7 L492.4,244.6 L492.8,244.6 L493.2,244.4 L493.7,244.3 L494.1,244.2 L494.5,244.1 L494.9,243.9 L495.3,243.7 L495.7,243.6 L496.1,243.4 L496.5,243.2 L496.9,243.0 L497.3,242.8 L497.7,242.6 L498.1,242.4 L498.5,242.1 L498.9,241.9 L499.3,241.7 L499.7,241.5 L500.1,241.2 L500.6,241.0 L501.0,240.7 L501.4,240.5 L501.8,240.3 L502.2,240.1 L502.6,239.8 L503.0,239.6 L503.4,239.4 L503.8,239.2 L504.2,239.0 L504.6,238.8 L505.0,238.6 L505.4,238.5 L505.8,238.3 L506.2,238.1 L506.6,238.0 L507.0,237.9 L507.5,237.8 L507.9,237.6 L508.3,237.6 L508.7,237.5 L509.1,237.4 L509.5,237.4 L509.9,237.3 L510.3,237.3 L510.7,237.3 L511.1,237.3 L511.5,237.3 L511.9,237.3 L512.3,237.4 L512.7,237.4 L513.1,237.5 L513.5,237.6 L513.9,237.6 L514.4,237.7 L514.8,237.8 L515.2,237.9 L515.6,238.1 L516.0,238.2 L516.4,238.3 L516.8,238.5 L517.2,238.6 L517.6,238.8 L518.0,238.9 L518.4,239.1 L518.8,239.3 L519.2,239.4 L519.6,239.6 L520.0,239.8 L520.4,240.0 L520.8,240.2 L521.2,240.4 L521.7,240.5 L522.1,240.7 L522.5,240.9 L522.9,241.1 L523.3,241.3 L523.7,241.5 L524.1,241.6 L524.5,241.8 L524.9,242.0 L525.3,242.1 L525.7,242.3 L526.1,242.4 L526.5,242.6 L526.9,242.7 L527.3,242.8 L527.7,243.0 L528.1,243.1 L528.5,243.2 L529.0,243.3 L529.4,243.3 L529.8,243.4 L530.2,243.5 L530.6,243.5 L531.0,243.6 L531.4,243.6 L531.8,243.6 L532.2,243.6 L532.6,243.6 L533.0,243.6"/>
<path class="c" style="stroke-width:1.3" stroke="#f2ca50" d="M27.8,240.8 L69.3,240.8 L69.7,224.8 L71.4,225.7 L72.9,226.5 L74.4,227.3 L75.9,227.9 L77.4,228.4 L78.9,228.9 L80.4,229.4 L81.9,229.9 L83.4,230.4 L84.9,230.8 L86.4,231.1 L87.9,231.5 L89.4,231.8 L90.9,232.1 L92.4,232.4 L93.9,232.7 L95.4,233.0 L96.9,233.4 L98.4,233.7 L99.9,234.1 L101.4,234.2 L102.9,234.4 L104.4,234.5 L105.9,234.7 L107.4,234.9 L108.9,235.0 L110.4,235.2 L111.9,235.3 L113.4,235.5 L114.9,235.7 L116.4,235.8 L117.9,236.0 L119.4,236.2 L120.9,236.3 L122.4,236.5 L123.9,236.6 L125.4,236.8 L126.9,237.0 L128.4,237.1 L129.9,237.3 L131.4,237.4 L132.9,237.6 L134.4,237.7 L135.9,237.8 L137.4,238.0 L138.9,238.1 L140.4,238.2 L141.9,238.4 L143.4,238.5 L144.9,238.7 L146.4,238.8 L147.9,238.9 L149.4,239.1 L150.9,239.2 L152.4,239.3 L153.9,239.5 L155.4,239.6 L156.9,239.7 L158.4,239.9 L159.9,240.0 L161.4,240.1 L162.9,240.1 L164.4,240.2 L165.9,240.2 L167.4,240.3 L168.9,240.3 L170.4,240.4 L171.9,240.4 L173.4,240.5 L174.9,240.5 L176.4,240.6 L177.9,240.6 L179.4,240.7 L180.9,240.7 L182.4,240.8 L183.9,240.8 L185.4,240.8 L186.9,240.8 L187.9,240.8 L533.4,240.8"/>
</g>
<g class="lab"><text x="27.4" y="423.9" text-anchor="middle">0</text><text x="111.7" y="423.9" text-anchor="middle">200</text><text x="195.9" y="423.9" text-anchor="middle">400</text><text x="280.2" y="423.9" text-anchor="middle">600</text><text x="364.5" y="423.9" text-anchor="middle">800</text><text x="448.7" y="423.9" text-anchor="middle">1000</text><text x="533.0" y="423.9" text-anchor="middle">1200</text><text x="24.6" y="409.9" text-anchor="end">-15</text><text x="24.6" y="355.4" text-anchor="end">-10</text><text x="24.6" y="300.9" text-anchor="end">-5</text><text x="24.6" y="246.4" text-anchor="end">0</text><text x="24.6" y="191.9" text-anchor="end">5</text><text x="24.6" y="137.4" text-anchor="end">10</text><text x="24.6" y="82.9" text-anchor="end">15</text></g>
<text x="280.7" y="18.2" text-anchor="middle" font-size="15.3px" fill="#1a1a1a">Velocity Estimation Error (m/s)</text>
<text x="280.8" y="441.4" text-anchor="middle" font-size="15.1px" fill="#1a1a1a">Time (seconds)</text>
<text x="7.8" y="444.8" font-size="12px" fill="#262626">Offset=0</text>
<rect x="451.5" y="39.5" width="68" height="50" fill="#ffffff" stroke="#444444" stroke-width="1.1"/>
<line x1="456.5" y1="48.5" x2="501.5" y2="48.5" stroke="#94c4e2" stroke-width="1.7"/>
<line x1="456.5" y1="64.5" x2="501.5" y2="64.5" stroke="#ef9876" stroke-width="1.7"/>
<line x1="456.5" y1="80.2" x2="501.5" y2="80.2" stroke="#f2d684" stroke-width="1.7"/>
<g font-size="12px" fill="#1a1a1a"><text x="506" y="53.9">N</text><text x="506" y="70.2">E</text><text x="506" y="86.3">D</text></g>
</svg>
</body></html>
